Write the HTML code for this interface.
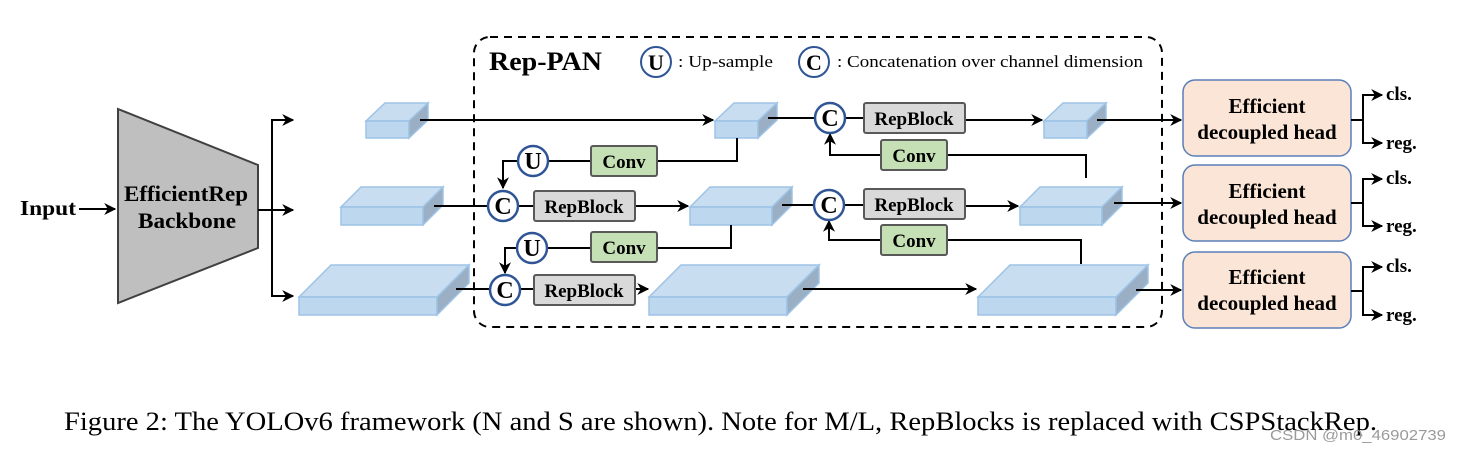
<!DOCTYPE html>
<html><head><meta charset="utf-8"><style>
html,body{margin:0;padding:0;background:#fff;}
svg{display:block;}
text{font-family:"Liberation Serif",serif;}
</style></head><body>
<svg width="1461" height="453" viewBox="0 0 1461 453" xmlns="http://www.w3.org/2000/svg">
<defs>
<marker id="ah" viewBox="0 0 10 10" refX="9" refY="5" markerWidth="12" markerHeight="12" markerUnits="userSpaceOnUse" orient="auto">
<path d="M0,0 L10,5 L0,10 L3,5 z" fill="#000"/>
</marker>
</defs>
<rect width="1461" height="453" fill="#fff"/>

<rect x="474" y="37" width="688" height="290" rx="16" fill="none" stroke="#000" stroke-width="2" stroke-dasharray="8,6"/>
<text x="489" y="70" font-size="26" font-weight="bold" textLength="113" lengthAdjust="spacingAndGlyphs">Rep-PAN</text>
<circle cx="656" cy="62" r="15" fill="#fff" stroke="#2f5597" stroke-width="2"/>
<text x="656" y="70" font-size="22" font-weight="bold" text-anchor="middle">U</text>
<text x="678" y="67" font-size="17" textLength="95" lengthAdjust="spacingAndGlyphs">: Up-sample</text>
<circle cx="814" cy="62" r="15" fill="#fff" stroke="#2f5597" stroke-width="2"/>
<text x="814" y="70" font-size="22" font-weight="bold" text-anchor="middle">C</text>
<text x="837" y="67" font-size="17" textLength="306" lengthAdjust="spacingAndGlyphs">: Concatenation over channel dimension</text>

<text x="20" y="215" font-size="21" font-weight="bold" textLength="56" lengthAdjust="spacingAndGlyphs">Input</text>
<line x1="79" y1="209" x2="115" y2="209" stroke="#000" stroke-width="2" marker-end="url(#ah)"/>
<polygon points="118,109 258,165 258,248 118,303" fill="#bfbfbf" stroke="#404040" stroke-width="2"/>
<text x="124" y="201" font-size="22" font-weight="bold" textLength="124" lengthAdjust="spacingAndGlyphs">EfficientRep</text>
<text x="138" y="228" font-size="22" font-weight="bold" textLength="98" lengthAdjust="spacingAndGlyphs">Backbone</text>
<polyline points="258,210 272,210" fill="none" stroke="#000" stroke-width="2"/>
<polyline points="293,120 272,120 272,296 293,296" fill="none" stroke="#000" stroke-width="2"/>
<line x1="272" y1="120" x2="293" y2="120" stroke="#000" stroke-width="2" marker-end="url(#ah)"/>
<line x1="272" y1="210" x2="293" y2="210" stroke="#000" stroke-width="2" marker-end="url(#ah)"/>
<line x1="272" y1="296" x2="293" y2="296" stroke="#000" stroke-width="2" marker-end="url(#ah)"/>

<g stroke="#9dc3e6" stroke-width="1.5">
<polygon points="366,121 385,103 428,103 409,121" fill="#c9ddf0"/><rect x="366" y="121" width="43" height="17" fill="#bdd7ee"/><polygon points="409,121 428,103 428,120 409,138" fill="#9aafc4"/>
<polygon points="341,207 361,187 443,187 423,207" fill="#c9ddf0"/><rect x="341" y="207" width="82" height="18" fill="#bdd7ee"/><polygon points="423,207 443,187 443,205 423,225" fill="#9aafc4"/>
<polygon points="299,297 331,265 469,265 437,297" fill="#c9ddf0"/><rect x="299" y="297" width="138" height="18" fill="#bdd7ee"/><polygon points="437,297 469,265 469,283 437,315" fill="#9aafc4"/>
<polygon points="715,121 734,103 777,103 758,121" fill="#c9ddf0"/><rect x="715" y="121" width="43" height="17" fill="#bdd7ee"/><polygon points="758,121 777,103 777,120 758,138" fill="#9aafc4"/>
<polygon points="690,207 710,187 792,187 772,207" fill="#c9ddf0"/><rect x="690" y="207" width="82" height="18" fill="#bdd7ee"/><polygon points="772,207 792,187 792,205 772,225" fill="#9aafc4"/>
<polygon points="649,297 681,265 819,265 787,297" fill="#c9ddf0"/><rect x="649" y="297" width="138" height="18" fill="#bdd7ee"/><polygon points="787,297 819,265 819,283 787,315" fill="#9aafc4"/>
<polygon points="1044,121 1063,103 1106,103 1087,121" fill="#c9ddf0"/><rect x="1044" y="121" width="43" height="17" fill="#bdd7ee"/><polygon points="1087,121 1106,103 1106,120 1087,138" fill="#9aafc4"/>
<polygon points="1020,207 1040,187 1122,187 1102,207" fill="#c9ddf0"/><rect x="1020" y="207" width="82" height="18" fill="#bdd7ee"/><polygon points="1102,207 1122,187 1122,205 1102,225" fill="#9aafc4"/>
<polygon points="978,297 1010,265 1148,265 1116,297" fill="#c9ddf0"/><rect x="978" y="297" width="138" height="18" fill="#bdd7ee"/><polygon points="1116,297 1148,265 1148,283 1116,315" fill="#9aafc4"/>
</g>

<g fill="none" stroke="#000" stroke-width="2">
<line x1="420" y1="120" x2="713" y2="120" marker-end="url(#ah)"/>
<line x1="768" y1="118" x2="815" y2="118"/>
<line x1="845" y1="118" x2="864" y2="118"/>
<line x1="965" y1="120" x2="1042" y2="120" marker-end="url(#ah)"/>
<line x1="1097" y1="120" x2="1181" y2="120" marker-end="url(#ah)"/>

<polyline points="737,138 737,161 657,161"/>
<line x1="591" y1="161" x2="548" y2="161"/>
<polyline points="518,161 503,161 503,188" marker-end="url(#ah)"/>
<line x1="434" y1="206" x2="488" y2="206"/>
<line x1="518" y1="206" x2="534" y2="206"/>
<line x1="635" y1="206" x2="688" y2="206" marker-end="url(#ah)"/>
<line x1="782" y1="205" x2="814" y2="205"/>
<line x1="844" y1="205" x2="864" y2="205"/>
<line x1="965" y1="206" x2="1018" y2="206" marker-end="url(#ah)"/>
<line x1="1114" y1="203" x2="1181" y2="203" marker-end="url(#ah)"/>

<polyline points="731,225 731,248 657,248"/>
<line x1="591" y1="248" x2="548" y2="248"/>
<polyline points="518,248 505,248 505,273" marker-end="url(#ah)"/>
<line x1="456" y1="289" x2="490" y2="289"/>
<line x1="520" y1="289" x2="534" y2="289"/>
<line x1="635" y1="289" x2="648" y2="289" marker-end="url(#ah)"/>
<line x1="803" y1="289" x2="976" y2="289" marker-end="url(#ah)"/>
<line x1="1136" y1="290" x2="1181" y2="290" marker-end="url(#ah)"/>

<polyline points="1086,178 1086,155 947,155"/>
<polyline points="881,155 830,155 830,134" marker-end="url(#ah)"/>
<polyline points="1081,264 1081,240 947,240"/>
<polyline points="881,240 829,240 829,221" marker-end="url(#ah)"/>
</g>

<g stroke="#2f5597" stroke-width="2.5" fill="#fff">
<circle cx="533" cy="161" r="15"/><circle cx="503" cy="206" r="15"/>
<circle cx="532" cy="248" r="15"/><circle cx="505" cy="290" r="15"/>
<circle cx="830" cy="118" r="15"/><circle cx="829" cy="205" r="15"/>
</g>
<g font-size="24" font-weight="bold" text-anchor="middle">
<text x="533" y="169">U</text><text x="503" y="214">C</text>
<text x="532" y="256">U</text><text x="505" y="298">C</text>
<text x="830" y="126">C</text><text x="829" y="213">C</text>
</g>

<g stroke="#595959" stroke-width="2">
<rect x="534" y="191" width="101" height="30" rx="2" fill="#d9d9d9"/>
<rect x="534" y="275" width="101" height="30" rx="2" fill="#d9d9d9"/>
<rect x="864" y="103" width="101" height="30" rx="2" fill="#d9d9d9"/>
<rect x="864" y="189" width="101" height="30" rx="2" fill="#d9d9d9"/>
<rect x="591" y="146" width="66" height="30" rx="2" fill="#c5e0b4"/>
<rect x="591" y="232" width="66" height="30" rx="2" fill="#c5e0b4"/>
<rect x="881" y="140" width="66" height="30" rx="2" fill="#c5e0b4"/>
<rect x="881" y="225" width="66" height="30" rx="2" fill="#c5e0b4"/>
</g>
<g font-size="19" font-weight="bold" text-anchor="middle">
<text x="584" y="213">RepBlock</text><text x="584" y="297">RepBlock</text>
<text x="914" y="125">RepBlock</text><text x="914" y="211">RepBlock</text>
<text x="624" y="168">Conv</text><text x="624" y="254">Conv</text>
<text x="914" y="162">Conv</text><text x="914" y="247">Conv</text>
</g>

<g stroke="#5b7fb8" stroke-width="1.5" fill="#fbe5d6">
<rect x="1183" y="80" width="168" height="76" rx="12"/>
<rect x="1183" y="165" width="168" height="76" rx="12"/>
<rect x="1183" y="252" width="168" height="76" rx="12"/>
</g>
<g font-size="21" font-weight="bold" text-anchor="middle">
<text x="1267" y="113">Efficient</text><text x="1267" y="139">decoupled head</text>
<text x="1267" y="198">Efficient</text><text x="1267" y="224">decoupled head</text>
<text x="1267" y="284">Efficient</text><text x="1267" y="310">decoupled head</text>
</g>
<g fill="none" stroke="#000" stroke-width="2">
<line x1="1351" y1="120" x2="1363" y2="120"/>
<polyline points="1380,95 1363,95 1363,143 1380,143"/>
<line x1="1363" y1="95" x2="1382" y2="95" marker-end="url(#ah)"/>
<line x1="1363" y1="143" x2="1382" y2="143" marker-end="url(#ah)"/>
<line x1="1351" y1="203" x2="1363" y2="203"/>
<polyline points="1380,179 1363,179 1363,226 1380,226"/>
<line x1="1363" y1="179" x2="1382" y2="179" marker-end="url(#ah)"/>
<line x1="1363" y1="226" x2="1382" y2="226" marker-end="url(#ah)"/>
<line x1="1351" y1="291" x2="1363" y2="291"/>
<polyline points="1380,267 1363,267 1363,315 1380,315"/>
<line x1="1363" y1="267" x2="1382" y2="267" marker-end="url(#ah)"/>
<line x1="1363" y1="315" x2="1382" y2="315" marker-end="url(#ah)"/>
</g>
<g font-size="19" font-weight="bold">
<text x="1386" y="100">cls.</text><text x="1386" y="149">reg.</text>
<text x="1386" y="184">cls.</text><text x="1386" y="232">reg.</text>
<text x="1386" y="272">cls.</text><text x="1386" y="321">reg.</text>
</g>

<text x="64" y="430" font-size="26" textLength="1313" lengthAdjust="spacingAndGlyphs">Figure 2: The YOLOv6 framework (N and S are shown). Note for M/L, RepBlocks is replaced with CSPStackRep.</text>
<text x="1270" y="440" font-size="15" fill="#9a9a9a" style="font-family:'Liberation Sans',sans-serif" textLength="176" lengthAdjust="spacingAndGlyphs">CSDN @m0_46902739</text>
</svg>
</body></html>
